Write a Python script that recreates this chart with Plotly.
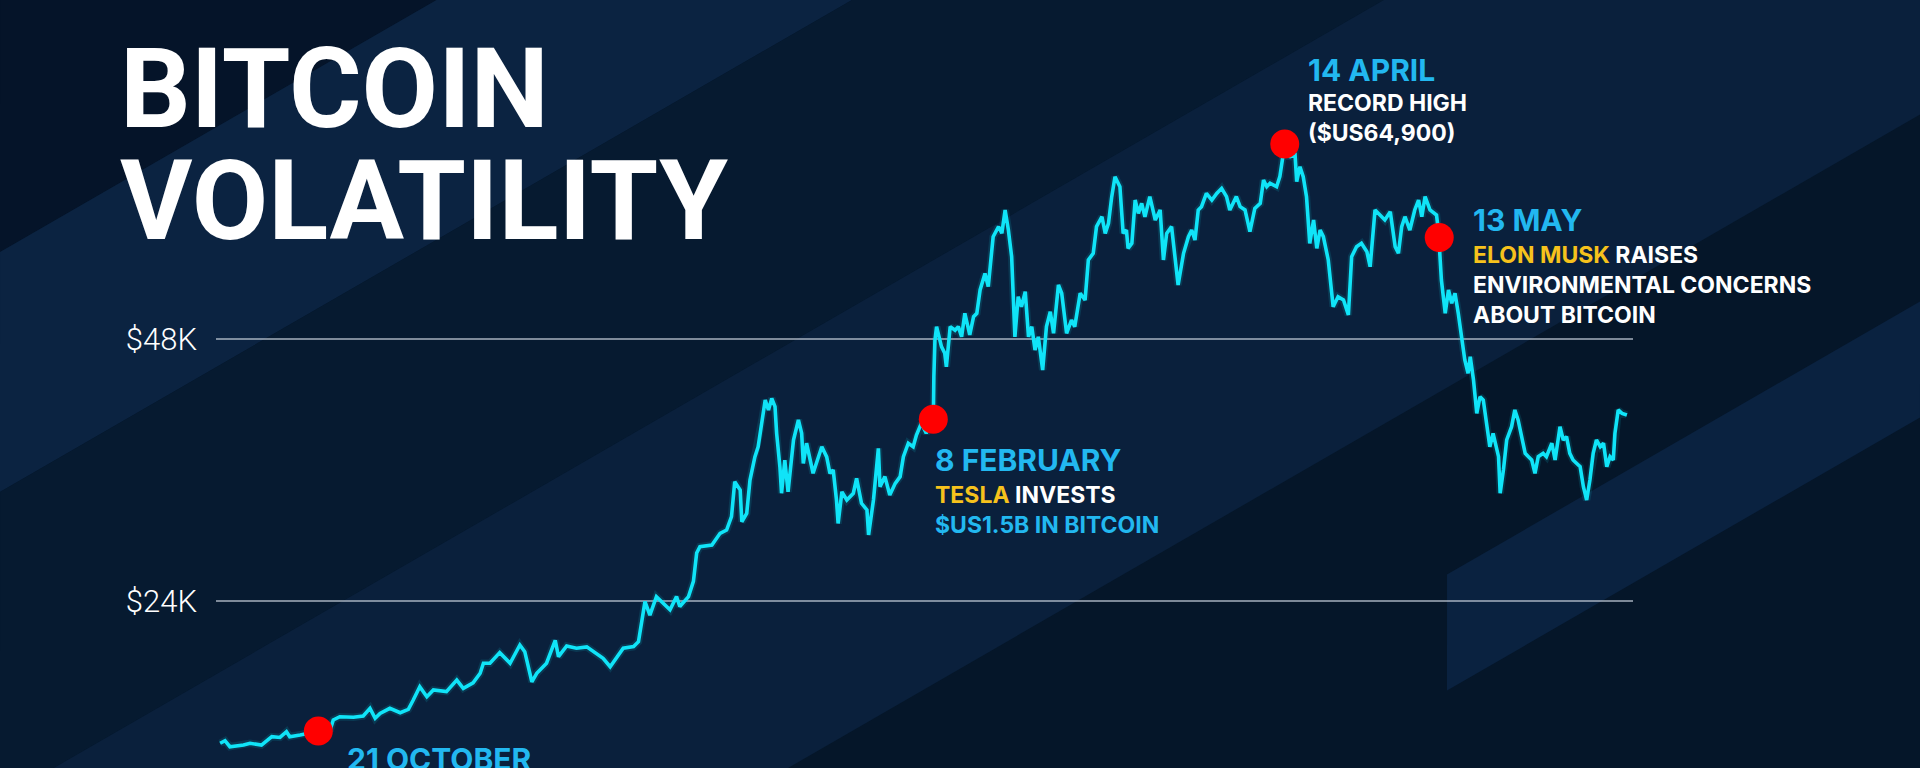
import plotly.graph_objects as go
import pandas as pd

# ---------------- DATA ----------------
ORIGIN = "2020-10-21"   # day 0

day_offsets = [
    -21.3, -20.4, -19.5, -17.0, -15.8, -13.7, -11.8, -10.3, -9.1, -8.5, -6.6, -3.0, -1.0, -0.5,
    0.7, 3.2, 5.0, 6.25, 7.2, 8.1, 9.9, 11.8, 13.3, 14.2, 15.4, 16.7, 17.9, 20.3, 22.2, 23.4,
    25.2, 26.5, 27.1, 28.3, 30.1, 32.0, 33.8, 34.7, 35.7, 36.0, 36.9, 38.7, 40.3, 40.9, 42.4,
    44.2, 46.1, 47.9, 49.1, 50.4, 51.6, 52.8, 54.7, 55.6, 56.8, 57.7, 58.9, 60.2, 61.4, 62.6,
    63.2, 64.8, 65.7, 66.3,
    66.9, 69.1, 70.6, 71.8, 72.7, 73.3, 74.3, 74.6, 75.5, 76.1, 77.0, 77.6, 78.3, 78.9, 79.5,
    80.1, 80.7, 81.0, 81.6, 81.9, 82.5, 83.1, 84.1, 85.0, 85.6, 85.9, 86.5, 87.1, 87.7, 89.3,
    90.2, 90.8, 91.4, 92.0, 92.3, 93.0, 93.9, 95.1, 95.7, 96.6, 97.6, 97.9, 98.8, 99.7, 100.0,
    100.9, 101.8, 102.8, 103.7, 104.3, 105.2, 106.1, 106.7, 107.6, 108.5, 109.2, 109.8, 109.9,
    110.1, 110.4, 111.3, 111.9, 112.2, 112.9, 113.8, 114.4, 115.0, 115.6, 116.5, 117.2, 117.8,
    118.4, 119.3, 119.9, 120.8, 121.8, 122.4, 123.0, 123.6, 124.2, 124.8, 125.4, 126.0, 126.7,
    127.3, 127.9, 128.5, 129.1, 129.9, 130.6, 131.3, 131.9, 132.8, 133.4, 134.3, 135.2, 135.8,
    136.8, 137.7, 138.3, 139.2, 139.8, 140.8, 141.4, 142.0, 142.6, 143.2, 144.1, 144.7, 145.3,
    145.6, 146.3, 146.9, 147.5, 148.1, 148.7, 149.6, 150.6, 151.5, 152.1, 152.7, 153.6, 154.2,
    154.8, 155.8, 156.7, 157.3, 157.9, 158.5, 159.1, 160.0, 161.0, 161.9, 162.8, 163.7, 164.3,
    165.5, 166.2, 167.1, 168.0, 168.9, 169.9, 170.5, 171.1, 171.7, 172.9, 173.5, 174.1, 175.4,
    176.3, 176.6, 177.2, 177.8, 178.4, 179.0, 179.7, 180.3, 180.9, 181.5, 182.4, 183.3, 184.2,
    185.2, 186.1, 186.7, 187.6, 188.5, 189.5, 190.1, 191.0,
    192.8, 193.8, 194.7, 195.3, 195.9, 196.5, 197.4, 198.3, 199.0, 199.6, 200.2, 201.1, 202.3,
    202.8, 202.9, 203.2, 203.9, 204.5, 205.1, 205.7, 206.3, 206.9, 207.5, 208.1, 208.5, 209.1,
    209.7, 210.3, 210.9, 212.1, 212.7, 213.7, 214.0, 214.6, 215.2, 216.1, 216.7, 217.3, 218.0,
    218.6, 219.2, 219.8, 220.4, 221.0, 221.9, 222.5, 223.5, 224.1, 225.0, 225.6, 226.2, 226.8,
    227.4, 228.1, 228.7, 229.3, 229.9, 230.5, 231.1, 231.7, 232.4, 233.0, 233.6, 234.2, 234.8,
    235.1, 235.7, 236.4, 237.3,
]

prices_k = [
    10.97, 11.2, 10.65, 10.8, 10.97, 10.8, 11.57, 11.5, 12.03, 11.57, 11.73, 12.05, 12.3, 13.1,
    13.4, 13.35, 13.47, 14.17, 13.25, 13.7, 14.17, 13.77, 14.07, 14.93, 16.15, 15.23, 15.85, 15.7, 16.76, 16.0,
    16.5, 17.38, 18.3, 18.3, 19.27, 18.3, 19.97, 19.36, 17.38, 16.6, 17.38, 18.3, 20.4, 18.9, 19.88,
    19.67, 19.8, 19.2, 18.75, 17.98, 18.9, 19.67, 19.82, 20.27, 23.94, 22.7, 24.4, 23.8, 23.2, 24.4,
    23.5, 24.4, 25.8, 28.4,
    28.97, 29.13, 30.2, 30.5, 31.72, 34.93, 34.17, 31.26, 32.03, 35.08, 37.2, 38.13, 40.58, 42.41, 41.5,
    42.56, 41.8, 39.36, 36.3, 33.87, 36.9, 34.0, 38.75, 40.58, 39.36, 36.6, 38.45, 37.2, 35.7, 38.13,
    37.2, 35.7, 36.0, 33.25, 31.1, 34.0, 33.25, 33.87, 35.24, 32.95, 32.34, 30.05, 33.25, 37.98, 34.47,
    35.39, 33.71, 34.78, 35.39, 37.22, 38.45, 38.13, 39.2, 40.28, 39.36, 40.2, 40.64, 44.55,
    47.9, 49.13, 47.3, 46.7, 45.46, 49.13, 48.8, 49.13, 48.2, 50.35, 48.37, 50.04, 50.35,
    52.49, 54.0, 52.8, 57.37, 58.29, 57.68, 59.82, 57.98, 55.54, 48.2, 51.87, 50.96, 52.33,
    48.2, 49.13, 46.99, 48.2, 45.16, 49.13, 50.5, 48.52, 52.95, 52.19, 48.52, 49.74, 49.13,
    52.19, 51.57, 55.24, 55.85, 58.29, 59.2, 57.68, 58.6, 61.04, 62.87, 61.95, 57.68, 57.98,
    56.3, 56.76, 60.73, 59.51, 60.42, 59.2, 61.04, 58.9, 59.82, 55.24, 57.68, 58.29, 55.24,
    52.95, 55.85, 57.37, 57.98, 57.07, 59.82, 60.12, 61.34, 60.73, 61.34, 61.8, 61.04, 59.82,
    61.04, 60.12, 59.82, 57.83, 59.97, 60.42, 62.56, 61.95, 62.26, 61.95, 62.87, 64.85, 64.7,
    64.85, 62.41, 63.78, 62.87, 61.04, 56.76, 58.9, 56.3, 57.98, 57.37, 55.24, 50.96, 51.87,
    51.57, 50.2, 55.54, 56.45, 56.76, 56.0, 54.62, 59.82,
    58.9, 59.66, 56.45, 55.85, 58.29, 59.2, 57.98, 59.82, 60.73, 59.2, 61.04, 59.82, 59.36,
    57.3, 55.85, 53.4, 50.35, 52.49, 51.27, 52.19, 50.35, 47.9, 46.08, 44.86, 46.38, 44.24,
    41.19, 42.71, 42.41, 38.13, 39.36, 37.22, 33.87, 36.0, 38.75, 39.97, 41.5, 40.58, 38.75,
    37.53, 37.22, 36.92, 35.7, 37.22, 37.53, 37.22, 38.45, 36.92, 39.97, 38.75, 39.05, 37.53,
    36.92, 36.61, 36.3, 34.47, 33.25, 35.08, 37.53, 38.75, 38.13, 38.45, 36.3, 37.22, 36.92,
    39.36, 41.5, 41.19, 41.04,
]

event_days = [-3.25, 109.8, 174.4, 202.8]
event_prices_k = [12.09, 40.64, 65.86, 57.3]

ytick_vals = [24, 48]
ytick_text = ["$24K", "$48K"]

# ---------------- LAYOUT GEOMETRY ----------------
W, H = 1920, 768
PLOT_L, PLOT_R = 216, 1633
DAY0_PX, PX_PER_DAY = 336.0, 5.44
Y24_PX, Y48_PX = 601.0, 339.0
PX_PER_K = (Y24_PX - Y48_PX) / 24.0

origin = pd.Timestamp(ORIGIN)
dates = origin + pd.to_timedelta(day_offsets, unit="D")
event_dates = origin + pd.to_timedelta(event_days, unit="D")

x_lo = origin + pd.to_timedelta((PLOT_L - DAY0_PX) / PX_PER_DAY, unit="D")
x_hi = origin + pd.to_timedelta((PLOT_R - DAY0_PX) / PX_PER_DAY, unit="D")
y_top = 24 + Y24_PX / PX_PER_K
y_bot = 24 - (H - Y24_PX) / PX_PER_K

CYAN_LINE = "#10e4f8"
CYAN_TXT = "#22b8f0"
YELLOW = "#f6c21c"
WHITE = "#ffffff"


def pxx(x):
    return (x - PLOT_L) / (PLOT_R - PLOT_L)


def pxy(y):
    return 1 - y / H


def poly(points, color):
    d = "M " + " L ".join(f"{pxx(x):.5f},{pxy(y):.5f}" for x, y in points) + " Z"
    return dict(type="path", xref="paper", yref="paper", path=d,
                fillcolor=color, line=dict(width=0), layer="below")


M = 0.5774  # tan 30deg


def edge(c, x):
    return c - M * x


shapes = [
    poly([(0, 0), (252 / M, 0), (0, 252)], "#051429"),
    poly([(252 / M, 0), (492 / M, 0), (0, 492), (0, 252)], "#0b2341"),
    poly([(492 / M, 0), (799 / M, 0), (0, 799), (0, 492)], "#061a30"),
    poly([(799 / M, 0), (1223 / M, 0), (0, 1223), (0, 799)], "#0a203c"),
    poly([(1447, edge(1410, 1447)), (1920, edge(1410, 1920)), (1920, edge(1526, 1920)),
          (1447, edge(1526, 1447))], "#0a2240"),
]


def ann(text, x, cap_top, size, color, family="Inter", weight=700, cap=0.33):
    return dict(xref="paper", yref="paper", x=pxx(x), y=pxy(cap_top - cap * size),
                xanchor="left", yanchor="top", align="left", showarrow=False,
                text=text, font=dict(family=family, size=size, color=color, weight=weight))


def span(t, c):
    return f"<span style='color:{c}'>{t}</span>"


TITLE_SIZE = 111
big = f"<span style='font-size:{TITLE_SIZE}px'>"
title_text = big + "BITCOIN</span><br>" + big + "VOLATILITY</span>"

annotations = [
    # base font size sets the line spacing (1.3 x 86 = 112 px)
    dict(xref="paper", yref="paper", x=pxx(118), y=pxy(46 - 0.22 * TITLE_SIZE),
         xanchor="left", yanchor="top", align="left", showarrow=False, text=title_text,
         font=dict(family="Roboto", size=86, color=WHITE, weight=700)),
    ann("14 APRIL", 1306, 60, 30, CYAN_TXT),
    ann("RECORD HIGH<br>($US64,900)", 1306, 95, 23, WHITE),
    ann("8 FEBRUARY", 933, 450, 30, CYAN_TXT),
    ann(span("TESLA", YELLOW) + " INVESTS<br>" + span("$US1.5B IN BITCOIN", CYAN_TXT), 933, 487, 23, WHITE),
    ann("13 MAY", 1471, 210, 30, CYAN_TXT),
    ann(span("ELON MUSK", YELLOW) + " RAISES<br>ENVIRONMENTAL CONCERNS<br>ABOUT BITCOIN", 1471, 247, 23, WHITE),
    ann("21 OCTOBER", 345, 749, 30, CYAN_TXT),
]

fig = go.Figure()
fig.add_trace(go.Scatter(x=dates, y=prices_k, mode="lines",
                         line=dict(color="rgba(16,228,248,0.12)", width=7.5),
                         hoverinfo="skip", showlegend=False))
fig.add_trace(go.Scatter(x=dates, y=prices_k, mode="lines",
                         line=dict(color=CYAN_LINE, width=3.6),
                         name="Bitcoin price", showlegend=False))
fig.add_trace(go.Scatter(x=event_dates, y=event_prices_k, mode="markers",
                         marker=dict(color="#ff0000", size=29, line=dict(width=0)),
                         cliponaxis=False, showlegend=False, name="Events"))

fig.update_layout(
    width=W, height=H,
    margin=dict(l=PLOT_L, r=W - PLOT_R, t=0, b=0, pad=0),
    paper_bgcolor="#051629", plot_bgcolor="rgba(0,0,0,0)",
    shapes=shapes, annotations=annotations,
    showlegend=False,
    xaxis=dict(type="date", range=[x_lo, x_hi], showgrid=False, zeroline=False,
               showticklabels=False, showline=False, ticks=""),
    yaxis=dict(range=[y_bot, y_top], tickvals=ytick_vals, ticktext=ytick_text,
               showgrid=True, gridcolor="rgba(190,200,212,0.65)", gridwidth=1.5,
               zeroline=False, showline=False, ticks="", ticklabelstandoff=18,
               tickfont=dict(family="Roboto", size=31, color=WHITE, weight=300)),
)

fig.write_html("out.html",
               config={"displayModeBar": False},
               post_script="document.body.style.margin='0';document.body.style.padding='0';"
                           "document.body.style.overflow='hidden';")
